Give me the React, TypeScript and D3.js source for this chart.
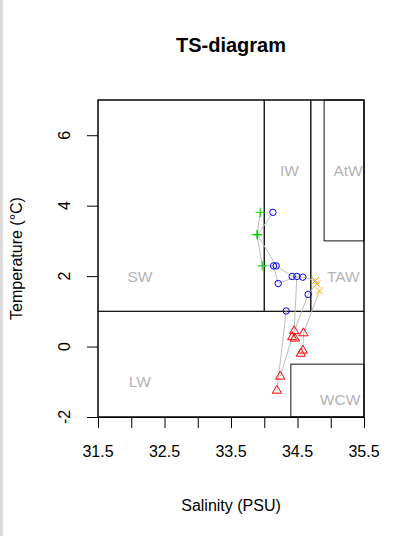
import { useEffect, useRef } from "react";
import * as d3 from "d3";

// axis ticks
const salTicks = [31.5, 32, 32.5, 33, 33.5, 34, 34.5, 35, 35.5];
const salLabels = [31.5, 32.5, 33.5, 34.5, 35.5];
const tempTicks = [-2, 0, 2, 4, 6];

// water mass boxes (salinity / temperature limits)
const massNames = ["SW", "IW", "TAW", "AtW", "LW", "WCW"];
const massSalMin = [31.5, 34.0, 34.7, 34.9, 31.5, 34.4];
const massSalMax = [34.0, 34.7, 35.5, 35.5, 35.5, 35.5];
const massTempMin = [1, 1, 1, 3, -2, -2];
const massTempMax = [7, 7, 7, 7, 1, -0.5];
const labelSal = [32.13, 34.38, 35.19, 35.26, 32.13, 35.14];
const labelTemp = [2, 5, 2, 5, -1, -1.5];

// station profiles, top to bottom
const p1Sal = [33.94, 33.89, 33.97, 34.14, 34.21, 34.49, 34.45, 34.46];
const p1Temp = [3.81, 3.18, 2.29, 2.29, 1.79, 1.99, 0.44, 0.23];
const p1Mass = ["SW", "SW", "SW", "IW", "IW", "IW", "LW", "LW"];

const p2Sal = [34.13, 33.9, 34.18, 34.42, 34.58, 34.77, 34.79, 34.66, 34.42, 34.24];
const p2Temp = [3.81, 3.17, 2.29, 1.99, 1.97, 1.875, 1.78, 1.48, 0.27, -0.85];
const p2Mass = ["IW", "SW", "IW", "IW", "IW", "TAW", "TAW", "IW", "LW", "LW"];

const p3Sal = [34.83, 34.59, 34.58, 34.55];
const p3Temp = [1.58, 0.38, -0.11, -0.2];
const p3Mass = ["TAW", "LW", "LW", "LW"];

const p4Sal = [34.33, 34.19];
const p4Temp = [1.01, -1.25];
const p4Mass = ["IW", "LW"];

const profiles = [
  { sal: p1Sal, temp: p1Temp, mass: p1Mass },
  { sal: p2Sal, temp: p2Temp, mass: p2Mass },
  { sal: p3Sal, temp: p3Temp, mass: p3Mass },
  { sal: p4Sal, temp: p4Temp, mass: p4Mass },
];

const markerColor: Record<string, string> = {
  SW: "#00cd00",
  IW: "#0000ff",
  TAW: "#ffa500",
  LW: "#ff0000",
};

const font = "'Liberation Sans', Arial, sans-serif";

// R-like open markers: pch 1, 2, 3, 4
function markerPath(mass: string): string {
  const p = d3.path();
  if (mass === "IW") {
    p.arc(0, 0, 3.2, 0, 2 * Math.PI);
  } else if (mass === "LW") {
    p.moveTo(0, -5.3);
    p.lineTo(4.6, 2.65);
    p.lineTo(-4.6, 2.65);
    p.closePath();
  } else if (mass === "SW") {
    p.moveTo(-4.7, 0);
    p.lineTo(4.7, 0);
    p.moveTo(0, -4.7);
    p.lineTo(0, 4.7);
  } else {
    p.moveTo(-3.6, -3.6);
    p.lineTo(3.6, 3.6);
    p.moveTo(-3.6, 3.6);
    p.lineTo(3.6, -3.6);
  }
  return p.toString();
}

const TSDiagram: React.FC = () => {
  const ref = useRef<SVGSVGElement>(null);

  useEffect(() => {
    const width = 407;
    const height = 536;
    const margin = { top: 100, right: 43, bottom: 119, left: 98 };

    const svg = d3.select(ref.current).html("");
    svg.attr("width", width).attr("height", height);

    svg.append("rect").attr("width", width).attr("height", height).attr("fill", "#fff");
    // thin grey edge on the left of the window
    svg.append("rect").attr("width", 3).attr("height", height).attr("fill", "#dcdcdc");

    const x = d3
      .scaleLinear()
      .domain([31.5, 35.5])
      .range([margin.left, width - margin.right]);
    const y = d3
      .scaleLinear()
      .domain([-2, 7])
      .range([height - margin.bottom, margin.top]);

    // water mass boxes
    svg
      .selectAll(".box")
      .data(massNames)
      .enter()
      .append("rect")
      .attr("class", "box")
      .attr("x", (_, i) => x(massSalMin[i]))
      .attr("y", (_, i) => y(massTempMax[i]))
      .attr("width", (_, i) => x(massSalMax[i]) - x(massSalMin[i]))
      .attr("height", (_, i) => y(massTempMin[i]) - y(massTempMax[i]))
      .attr("fill", "none")
      .attr("stroke", "#111")
      .attr("stroke-width", 1);

    // box labels
    svg
      .selectAll(".massLabel")
      .data(massNames)
      .enter()
      .append("text")
      .attr("class", "massLabel")
      .attr("x", (_, i) => x(labelSal[i]))
      .attr("y", (_, i) => y(labelTemp[i]))
      .attr("text-anchor", "middle")
      .attr("dominant-baseline", "central")
      .style("font-family", font)
      .style("font-size", "15.5px")
      .style("fill", "#b4b4b4")
      .text((d) => d);

    // profile lines
    profiles.forEach((pr) => {
      const pts = pr.sal.map((s, i) => [x(s), y(pr.temp[i])] as [number, number]);
      svg
        .append("path")
        .attr("d", d3.line()(pts))
        .attr("fill", "none")
        .attr("stroke", "#bebebe")
        .attr("stroke-width", 1);
    });

    // points, one marker per water mass
    profiles.forEach((pr) => {
      pr.sal.forEach((s, i) => {
        svg
          .append("path")
          .attr("d", markerPath(pr.mass[i]))
          .attr("transform", `translate(${x(s)},${y(pr.temp[i])})`)
          .attr("fill", "none")
          .attr("stroke", markerColor[pr.mass[i]])
          .attr("stroke-width", 1);
      });
    });

    // x axis
    const bottom = height - margin.bottom;
    svg
      .append("g")
      .attr("transform", `translate(0,${bottom})`)
      .call(d3.axisBottom(x).tickValues(salTicks).tickSize(11).tickSizeOuter(0).tickFormat(() => ""))
      .call((g) => g.selectAll("line, path").attr("stroke", "#000"));

    svg
      .selectAll(".xlab")
      .data(salLabels)
      .enter()
      .append("text")
      .attr("class", "xlab")
      .attr("x", (d) => x(d))
      .attr("y", bottom + 40)
      .attr("text-anchor", "middle")
      .style("font-family", font)
      .style("font-size", "16px")
      .style("fill", "#000")
      .text((d) => d.toFixed(1));

    // y axis
    svg
      .append("g")
      .attr("transform", `translate(${margin.left},0)`)
      .call(d3.axisLeft(y).tickValues(tempTicks).tickSize(11).tickSizeOuter(0).tickFormat(() => ""))
      .call((g) => g.select(".domain").remove())
      .call((g) => g.selectAll("line").attr("stroke", "#000"));

    svg
      .selectAll(".ylab")
      .data(tempTicks)
      .enter()
      .append("text")
      .attr("class", "ylab")
      .attr("transform", (d) => `translate(${margin.left - 28},${y(d)}) rotate(-90)`)
      .attr("text-anchor", "middle")
      .style("font-family", font)
      .style("font-size", "16px")
      .style("fill", "#000")
      .text((d) => d);

    // frame
    svg
      .append("rect")
      .attr("x", margin.left)
      .attr("y", margin.top)
      .attr("width", width - margin.left - margin.right)
      .attr("height", height - margin.top - margin.bottom)
      .attr("fill", "none")
      .attr("stroke", "#000")
      .attr("stroke-width", 1);

    // titles
    svg
      .append("text")
      .attr("x", (margin.left + width - margin.right) / 2)
      .attr("y", 52)
      .attr("text-anchor", "middle")
      .style("font-family", font)
      .style("font-size", "20px")
      .style("font-weight", "bold")
      .text("TS-diagram");

    svg
      .append("text")
      .attr("x", (margin.left + width - margin.right) / 2)
      .attr("y", 511)
      .attr("text-anchor", "middle")
      .style("font-family", font)
      .style("font-size", "16px")
      .text("Salinity (PSU)");

    svg
      .append("text")
      .attr("transform", `translate(22,${(margin.top + height - margin.bottom) / 2}) rotate(-90)`)
      .attr("text-anchor", "middle")
      .style("font-family", font)
      .style("font-size", "16px")
      .text("Temperature (°C)");
  }, []);

  return <svg ref={ref} style={{ position: "absolute", left: 0, top: 0 }} />;
};

export default function App() {
  return <TSDiagram />;
}
